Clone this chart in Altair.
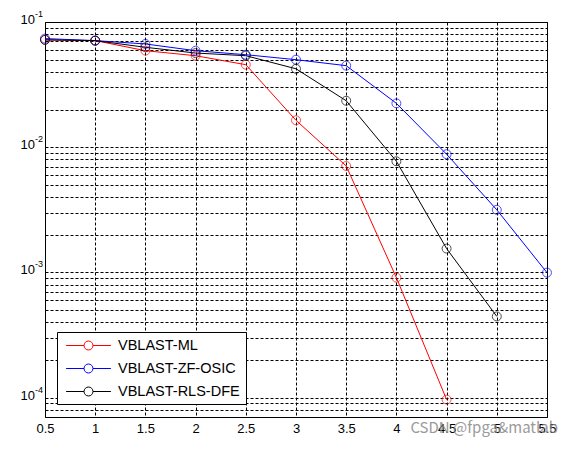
import altair as alt
import pandas as pd

# ---- data ----
x_vals = [0.5, 1, 1.5, 2, 2.5, 3, 3.5, 4, 4.5, 5, 5.5]
ml = [0.072, 0.071, 0.059, 0.0538, 0.0456, 0.0164, 0.00708, 0.000908, 0.0000964]
zf = [0.0737, 0.071, 0.0668, 0.059, 0.0548, 0.050, 0.0448, 0.0224, 0.00879, 0.00316, 0.000996]
rls = [0.072, 0.071, 0.0628, 0.0565, 0.0538, 0.0423, 0.0235, 0.00772, 0.00155, 0.000445]
names = ["VBLAST-ML", "VBLAST-ZF-OSIC", "VBLAST-RLS-DFE"]
colors = ["#ff0000", "#0000ff", "#000000"]

x_ticks = [0.5, 1, 1.5, 2, 2.5, 3, 3.5, 4, 4.5, 5, 5.5]
decades = [1e-1, 1e-2, 1e-3, 1e-4]
exp_labels = ["-1", "-2", "-3", "-4"]
y_min, y_max = 7e-5, 1e-1
watermark = "CSDN @fpga&matlab"

rows = []
for name, series in zip(names, [ml, zf, rls]):
    for i, v in enumerate(series):
        rows.append({"x": x_vals[i], "v": v, "s": name, "o": i})
df = pd.DataFrame(rows)

minor = []
for d in [1e-5, 1e-4, 1e-3, 1e-2]:
    for k in range(1, 10):
        val = round(k * d, 12)
        if y_min <= val <= y_max:
            minor.append(val)
minor.append(1e-1)

dec_df = pd.DataFrame({"v": decades, "e": exp_labels})

W, H = 502, 395
FONT = "Liberation Sans"

xscale = alt.Scale(domain=[0.5, 5.5], nice=False, zero=False)
yscale = alt.Scale(type="log", domain=[y_min, y_max], nice=False)

legend_path = ("M-3.2,0L-0.64,0M0.64,0L3.2,0"
               "M0.64,0A0.64,0.64,0,1,1,-0.64,0A0.64,0.64,0,1,1,0.64,0")

xaxis = alt.Axis(values=x_ticks, grid=True, gridDash=[3, 2], gridColor="black",
                 gridOpacity=1, gridWidth=1, tickSize=0, domain=False, title=None,
                 labelFont=FONT, labelFontSize=13, labelColor="black",
                 labelPadding=5, labelFlush=False, format="~g")
yaxis = alt.Axis(values=minor, grid=True, gridDash=[3, 2], gridColor="black",
                 gridOpacity=1, gridWidth=1, ticks=False, labels=False,
                 domain=False, title=None)

base = alt.Chart(df)
lines = base.mark_line(strokeWidth=1).encode(
    x=alt.X("x:Q", scale=xscale, axis=xaxis),
    y=alt.Y("v:Q", scale=yscale, axis=yaxis),
    color=alt.Color("s:N", scale=alt.Scale(domain=names, range=colors),
                    sort=names,
                    legend=alt.Legend(
                        orient="none", legendX=12, legendY=310, title=None,
                        padding=6, strokeColor="black", fillColor="white",
                        cornerRadius=0, symbolType=legend_path, symbolSize=196,
                        symbolStrokeWidth=1, symbolFillColor="transparent",
                        symbolOffset=18, labelOffset=22, rowPadding=8,
                        labelFont=FONT, labelFontSize=14.5, labelColor="black",
                        labelLimit=300)),
    order="o:O",
    detail="s:N",
)
points = base.mark_point(shape="circle", filled=False, size=80, strokeWidth=1).encode(
    x=alt.X("x:Q", scale=xscale),
    y=alt.Y("v:Q", scale=yscale),
    color=alt.Color("s:N", scale=alt.Scale(domain=names, range=colors), legend=None),
)

ten = alt.Chart(dec_df).mark_text(align="right", baseline="middle", font=FONT,
                                  fontSize=13, color="black", dy=-2).encode(
    x=alt.value(-10), y=alt.Y("v:Q", scale=yscale), text=alt.value("10"))
expo = alt.Chart(dec_df).mark_text(align="left", baseline="middle", font=FONT,
                                   fontSize=9, color="black", dy=-8).encode(
    x=alt.value(-10), y=alt.Y("v:Q", scale=yscale), text="e:N")

wm = alt.Chart(pd.DataFrame({"t": [watermark]})).mark_text(
    align="right", baseline="middle", font="Noto Sans CJK SC", fontSize=15,
    color="#8a8a8a", opacity=0.85).encode(
    x=alt.value(W + 11), y=alt.value(H + 11), text="t:N")

chart = alt.layer(lines, points, ten, expo, wm).properties(
    width=W, height=H,
    autosize=alt.AutoSizeParams(type="none"),
    padding={"left": 37, "top": 14, "right": 20, "bottom": 30},
    background="white",
).configure_view(stroke="black", strokeWidth=1)

chart.save("out.html", embed_options={"renderer": "svg", "actions": False})
